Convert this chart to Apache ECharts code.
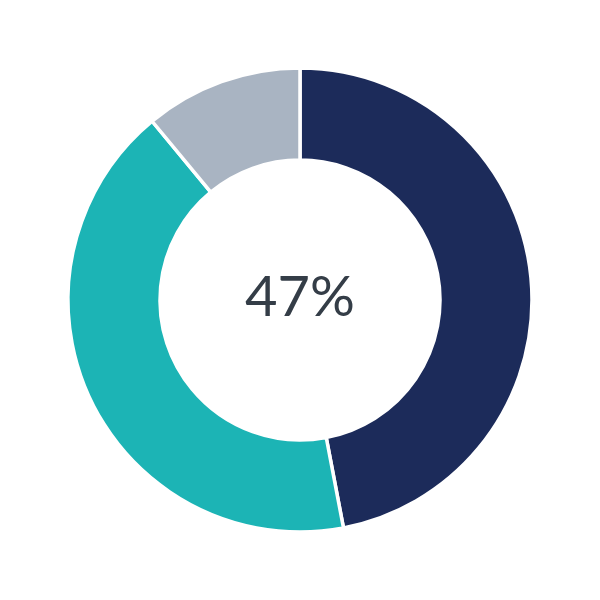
<!DOCTYPE html>
<html><head><meta charset="utf-8">
<script src="https://cdn.jsdelivr.net/npm/echarts@6/dist/echarts.min.js"></script>
<style>html,body{margin:0;padding:0;background:#fff}#c{width:600px;height:600px}</style>
</head><body><div id="c"></div>
<script>
const categories = ['A', 'B', 'C'];
const values = [47, 42, 11];
const colors = ['#1c2b5a', '#1cb4b5', '#a9b4c2'];
const centerLabel = '47%';

const chart = echarts.init(document.getElementById('c'), null, {renderer: 'canvas'});
chart.setOption({
  animation: false,
  graphic: [{
    type: 'text',
    style: { text: centerLabel, font: '400 56px Lato', fill: '#343d47', align: 'center', verticalAlign: 'middle' },
    x: 300, y: 298
  }],
  series: [{
    type: 'pie',
    center: [300, 300],
    radius: [140, 232],
    startAngle: 90,
    clockwise: true,
    label: { show: false },
    labelLine: { show: false },
    itemStyle: { borderColor: '#fff', borderWidth: 3.5 },
    emphasis: { disabled: true },
    data: categories.map((c, i) => ({ name: c, value: values[i], itemStyle: { color: colors[i] } }))
  }]
});
</script></body></html>
